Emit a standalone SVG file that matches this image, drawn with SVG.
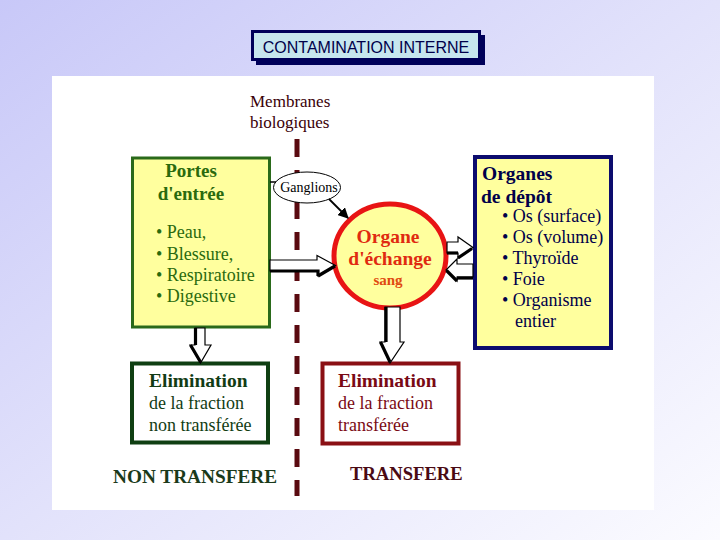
<svg xmlns="http://www.w3.org/2000/svg" width="720" height="540" viewBox="0 0 720 540">
  <defs>
    <linearGradient id="bg" x1="0" y1="0" x2="1" y2="1">
      <stop offset="0" stop-color="#c8c8f8"/>
      <stop offset="0.5" stop-color="#e2e2fb"/>
      <stop offset="1" stop-color="#fbfbff"/>
    </linearGradient>
    <marker id="ah" viewBox="0 0 10 10" refX="9" refY="5" markerWidth="6" markerHeight="6" orient="auto">
      <path d="M0,0 L10,5 L0,10 z" fill="#000"/>
    </marker>
    <style>
      .serif { font-family: "Liberation Serif", "Times New Roman", serif; }
      .sans { font-family: "Liberation Sans", Arial, sans-serif; }
      .ybox { fill: #ffff9e; }
      .arrow { fill: #fff; stroke: #000; stroke-width: 1.2; stroke-linejoin: miter; }
      .shade { fill: none; stroke: #000; stroke-width: 3.2; stroke-linecap: butt; }
      .green { fill: #2a6a0e; }
      .navy { fill: #00004a; }
    </style>
  </defs>

  <rect x="0" y="0" width="720" height="540" fill="url(#bg)"/>
  <rect x="52" y="76" width="602" height="434" fill="#fff"/>

  <g id="title">
    <rect x="256" y="35" width="229" height="30" fill="#00005a"/>
    <rect x="252.5" y="31.5" width="227" height="28" fill="#c6e6ee" stroke="#00005a" stroke-width="3"/>
    <text x="366" y="53" class="sans" font-size="16" fill="#00004a" text-anchor="middle">CONTAMINATION INTERNE</text>
  </g>

  <g id="membranes">
    <text x="250" y="107" class="serif" font-size="17" fill="#3a0008">Membranes</text>
    <text x="250" y="128" class="serif" font-size="17" fill="#3a0008">biologiques</text>
    <line x1="297" y1="139" x2="297" y2="496" stroke="#5a0a10" stroke-width="5" stroke-dasharray="18 13"/>
  </g>

  <g id="portes">
    <rect x="132.5" y="158" width="137" height="169" class="ybox" stroke="#2a6a1a" stroke-width="3"/>
    <text x="191" y="177" class="serif green" font-size="19" font-weight="bold" text-anchor="middle">Portes</text>
    <text x="191" y="200" class="serif green" font-size="19" font-weight="bold" text-anchor="middle">d'entrée</text>
    <g class="serif green" font-size="18">
      <text x="156" y="238">• Peau,</text>
      <text x="156" y="260">• Blessure,</text>
      <text x="156" y="281">• Respiratoire</text>
      <text x="156" y="302">• Digestive</text>
    </g>
  </g>

  <g id="ganglions">
    <ellipse cx="307" cy="187.5" rx="33.5" ry="15.5" fill="#fff" stroke="#000" stroke-width="1"/>
    <text x="309" y="192" class="serif" font-size="14" fill="#000" text-anchor="middle">Ganglions</text>
  </g>

  <g id="organe-echange">
    <ellipse cx="390" cy="256" rx="56" ry="52" class="ybox" stroke="#e81414" stroke-width="5"/>
    <text x="388" y="243" class="serif" font-size="19.5" font-weight="bold" fill="#e02a10" text-anchor="middle">Organe</text>
    <text x="390" y="265" class="serif" font-size="19.5" font-weight="bold" fill="#e02a10" text-anchor="middle">d'échange</text>
    <text x="388" y="285" class="serif" font-size="15" font-weight="bold" fill="#e04a10" text-anchor="middle">sang</text>
  </g>

  <g id="organes-depot">
    <rect x="475" y="157" width="136" height="191" class="ybox" stroke="#0c0c6e" stroke-width="4"/>
    <text x="482" y="180" class="serif navy" font-size="19.5" font-weight="bold">Organes</text>
    <text x="481" y="203" class="serif navy" font-size="19.5" font-weight="bold">de dépôt</text>
    <g class="serif navy" font-size="18">
      <text x="502" y="222">• Os (surface)</text>
      <text x="502" y="243">• Os (volume)</text>
      <text x="502" y="264">• Thyroïde</text>
      <text x="502" y="285">• Foie</text>
      <text x="502" y="306">• Organisme</text>
      <text x="515" y="327">entier</text>
    </g>
  </g>

  <g id="elim-non-transferee">
    <rect x="132" y="363.5" width="136" height="79" fill="#fff" stroke="#0f3f12" stroke-width="4"/>
    <text x="149" y="387" class="serif" font-size="19.5" font-weight="bold" fill="#123c14">Elimination</text>
    <text x="149" y="409" class="serif" font-size="18" fill="#123c14">de la fraction</text>
    <text x="149" y="431" class="serif" font-size="18" fill="#123c14">non transférée</text>
  </g>

  <g id="elim-transferee">
    <rect x="322.5" y="363.5" width="136" height="80" fill="#fff" stroke="#8a1014" stroke-width="4"/>
    <text x="338" y="387" class="serif" font-size="19.5" font-weight="bold" fill="#7a0a14">Elimination</text>
    <text x="338" y="409" class="serif" font-size="18" fill="#7a0a14">de la fraction</text>
    <text x="338" y="431" class="serif" font-size="18" fill="#7a0a14">transférée</text>
  </g>

  <g id="label-non-transfere">
    <text x="113" y="483" class="serif" font-size="19.3" font-weight="bold" fill="#1a3a1a">NON TRANSFERE</text>
  </g>
  <g id="label-transfere">
    <text x="350" y="480" class="serif" font-size="18.6" font-weight="bold" fill="#4a0a14">TRANSFERE</text>
  </g>

  <g id="connectors">
    <!-- Portes -> Ganglions -->
    <line x1="270" y1="182" x2="276" y2="182" stroke="#000" stroke-width="1.5"/>
    <!-- Ganglions -> Organe d'échange -->
    <line x1="329" y1="199" x2="348" y2="218" stroke="#000" stroke-width="1.8" marker-end="url(#ah)"/>
    <!-- Portes -> Organe d'échange -->
    <polygon class="arrow" points="270,260 317,260 317,255.5 335.5,265.5 318,276 318,271 270,271"/>
    <polyline class="shade" points="270,271 318,271 318,276"/>
    <line class="shade" x1="318" y1="276" x2="335" y2="266"/>
    <!-- Organe -> Organes de dépôt -->
    <polygon class="arrow" points="447,242 458,242 458,237 473,247.5 458,258 458,253 447,253"/>
    <line class="shade" x1="447" y1="253" x2="458" y2="253"/>
    <line class="shade" x1="458" y1="258" x2="472" y2="248.5"/>
    <!-- Organes de dépôt -> Organe -->
    <polygon class="arrow" points="473,264 457,264 457,259 446,270 457,281 457,277 473,277"/>
    <line class="shade" x1="446.5" y1="270.5" x2="457" y2="281"/>
    <line class="shade" x1="457" y1="278" x2="473" y2="278"/>
    <!-- Portes -> Elimination non transférée -->
    <polygon class="arrow" points="195,328 205,328 205,345 211,345 200.5,363 190,345 195,345"/>
    <line class="shade" x1="195.5" y1="328" x2="195.5" y2="345"/>
    <line class="shade" x1="190.5" y1="345" x2="200.5" y2="362"/>
    <!-- Organe -> Elimination transférée -->
    <polygon class="arrow" points="385,307 400,307 400,342 404,342 390,363 380,342 385,342"/>
    <line class="shade" x1="386" y1="307" x2="386" y2="342"/>
    <line class="shade" x1="380.5" y1="342" x2="390" y2="362"/>
  </g>
</svg>
